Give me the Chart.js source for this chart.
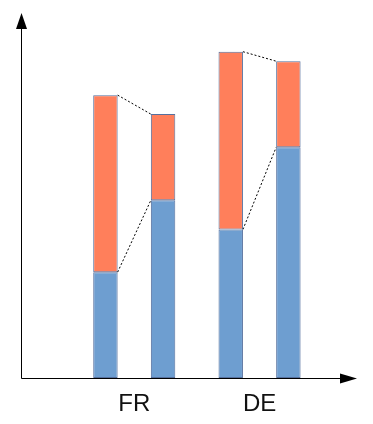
<!DOCTYPE html>
<html>
<head>
<meta charset="utf-8">
<script src="https://cdn.jsdelivr.net/npm/chart.js@4"></script>
<style>
  html, body { margin: 0; padding: 0; background: #fff; }
  #wrap { width: 373px; height: 424px; position: relative; }
</style>
</head>
<body>
<div id="wrap"><canvas id="bridge-chart"></canvas></div>
<script>
// categories and the two bars per category (before / after)
const countries = ["FR", "DE"];
const baseBefore = [29.0, 40.7];
const topBefore = [48.5, 48.7];
const baseAfter = [48.7, 63.2];
const topAfter = [23.6, 23.6];

const BLUE = "#6e9ed0";
const ORANGE = "#ff7f5b";
const EDGE = "#56709e";

const ctx = document.getElementById("bridge-chart");

// axes with arrow heads, drawn outside the plot area like the reference
const arrowAxes = {
    id: "arrowAxes",
    beforeDatasetsDraw(chart) {
        const c = chart.ctx;
        const y0 = Math.round(chart.scales.y.getPixelForValue(0)) + 0.5;
        const axX = 21.5;
        c.save();
        c.strokeStyle = "#000";
        c.fillStyle = "#000";
        c.lineWidth = 1;
        c.beginPath();
        c.moveTo(axX, y0);
        c.lineTo(axX, 28);
        c.moveTo(axX, y0);
        c.lineTo(341, y0);
        c.stroke();
        c.beginPath();
        c.moveTo(axX, 13);
        c.lineTo(axX - 5.5, 29);
        c.lineTo(axX + 5.5, 29);
        c.closePath();
        c.fill();
        c.beginPath();
        c.moveTo(357, y0);
        c.lineTo(340, y0 - 5);
        c.lineTo(340, y0 + 5);
        c.closePath();
        c.fill();
        c.restore();
    },
};

// dotted connectors between the bars of each country
const connectors = {
    id: "connectors",
    afterDatasetsDraw(chart) {
        const c = chart.ctx;
        const bb = chart.getDatasetMeta(0).data;
        const tb = chart.getDatasetMeta(1).data;
        const ba = chart.getDatasetMeta(2).data;
        const ta = chart.getDatasetMeta(3).data;
        c.save();
        c.strokeStyle = "#000";
        c.lineWidth = 1;
        c.setLineDash([2, 2]);
        c.beginPath();
        countries.forEach((_, i) => {
            const r = bb[i].x + bb[i].width / 2;
            const l = ba[i].x - ba[i].width / 2;
            c.moveTo(r, tb[i].y);
            c.lineTo(l, ta[i].y);
            c.moveTo(r, bb[i].y);
            c.lineTo(l, ba[i].y);
        });
        c.stroke();
        c.restore();
    },
};

const bar = (data, color, stack) => ({
    data,
    stack,
    backgroundColor: color,
    borderColor: EDGE,
    borderWidth: 1,
    borderSkipped: false,
    categoryPercentage: 0.92,
    barPercentage: 0.424,
});

new Chart(ctx, {
    type: "bar",
    data: {
        labels: countries,
        datasets: [
            bar(baseBefore, BLUE, "before"),
            bar(topBefore, ORANGE, "before"),
            bar(baseAfter, BLUE, "after"),
            bar(topAfter, ORANGE, "after"),
        ],
    },
    options: {
        responsive: true,
        maintainAspectRatio: false,
        animation: false,
        layout: { padding: { left: 71.6, right: 50.8, top: 13, bottom: 0 } },
        plugins: { legend: { display: false }, tooltip: { enabled: false } },
        scales: {
            x: {
                stacked: true,
                grid: { display: false, drawTicks: false },
                border: { display: false },
                afterFit: (scale) => { scale.height = 46; },
                ticks: {
                    padding: 11.5,
                    color: "#111",
                    font: { family: "Liberation Sans, Arial, sans-serif", size: 24 },
                },
            },
            y: {
                stacked: true,
                display: false,
                min: 0,
                max: 100,
            },
        },
    },
    plugins: [arrowAxes, connectors],
});
</script>
</body>
</html>
